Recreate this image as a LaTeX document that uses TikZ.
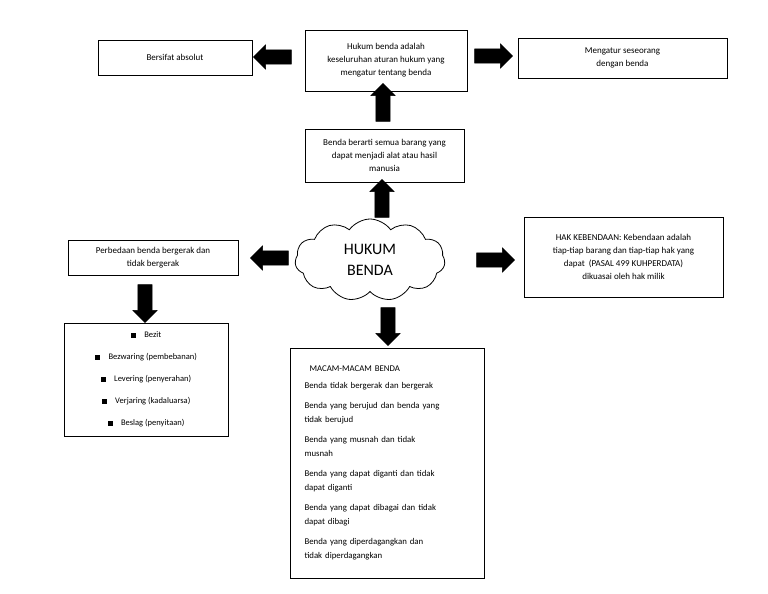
\documentclass[tikz,border=0pt]{standalone}
\usepackage{fontspec}
\setmainfont{Carlito}
\usetikzlibrary{shapes.symbols,shapes.arrows}
\begin{document}
\begin{tikzpicture}[x=1pt,y=-1pt,
  box/.style={draw,thick,font=\fontsize{9}{13}\selectfont,align=center,inner sep=2pt},
  blk/.style={single arrow,fill=black,draw=black,minimum height=38pt,
    single arrow head extend=5pt,inner sep=7pt,single arrow head indent=0pt}]
\useasboundingbox (0,0) rectangle (768,594);
\node[box,minimum width=154pt,minimum height=35pt] (abs) at (175,57.5) {Bersifat absolut};
\node[box,minimum width=162pt,minimum height=61pt] (hb) at (386,60.5) {Hukum benda adalah\\keseluruhan aturan hukum yang\\mengatur tentang benda};
\node[box,minimum width=209pt,minimum height=40pt] (mg) at (622.5,58) {Mengatur seseorang\\dengan benda};
\node[box,minimum width=159pt,minimum height=53pt] (bb) at (384.5,155.5) {Benda berarti semua barang yang\\dapat menjadi alat atau hasil\\manusia};
\node[cloud,draw,thick,cloud puffs=11,cloud puff arc=110,aspect=2,minimum width=150pt,minimum height=82pt,
  align=center,font=\fontsize{16}{21}\selectfont] (hk) at (370,260) {HUKUM\\BENDA};
\node[box,minimum width=199pt,minimum height=80pt] (hak) at (623.5,257) {HAK KEBENDAAN: Kebendaan adalah\\tiap-tiap barang dan tiap-tiap hak yang\\dapat\ \ (PASAL 499 KUHPERDATA)\\dikuasai oleh hak milik};
\node[box,minimum width=170pt,minimum height=35pt] (pb) at (153,257.5) {Perbedaan benda bergerak dan\\tidak bergerak};
\node[box,minimum width=164pt,minimum height=113pt,font=\fontsize{8.5}{22}\selectfont] (bz) at (146,379.5)
  {\rule{5pt}{5pt}\quad Bezit\\\rule{5pt}{5pt}\quad Bezwaring (pembebanan)\\\rule{5pt}{5pt}\quad Levering (penyerahan)\\\rule{5pt}{5pt}\quad Verjaring (kadaluarsa)\\\rule{5pt}{5pt}\quad Beslag (penyitaan)};
\node[box,text width=166pt,minimum height=230pt,align=left,inner xsep=14pt,inner ysep=8pt,font=\fontsize{8.8}{14.5}\selectfont] (mc) at (387.5,463)
  {\hspace*{5pt}MACAM-MACAM BENDA\\[3pt]
   Benda tidak bergerak dan bergerak\\[5pt]
   Benda yang berujud dan benda yang\\tidak berujud\\[5pt]
   Benda yang musnah dan tidak\\musnah\\[5pt]
   Benda yang dapat diganti dan tidak\\dapat diganti\\[5pt]
   Benda yang dapat dibagai dan tidak\\dapat dibagi\\[5pt]
   Benda yang diperdagangkan dan\\tidak diperdagangkan};
% block arrows
\node[blk,shape border rotate=180] (a1) at (276,57) {};
\node[blk] (a2) at (490,56) {};
\node[blk,shape border rotate=90] (a3) at (383,106) {};
\node[blk,shape border rotate=90] (a4) at (382,202) {};
\node[blk,shape border rotate=180] (a5) at (273,258) {};
\node[blk] (a6) at (492,260) {};
\node[blk,shape border rotate=270] (a7) at (145,300) {};
\node[blk,shape border rotate=270] (a8) at (388,323) {};
\end{tikzpicture}
\end{document}
